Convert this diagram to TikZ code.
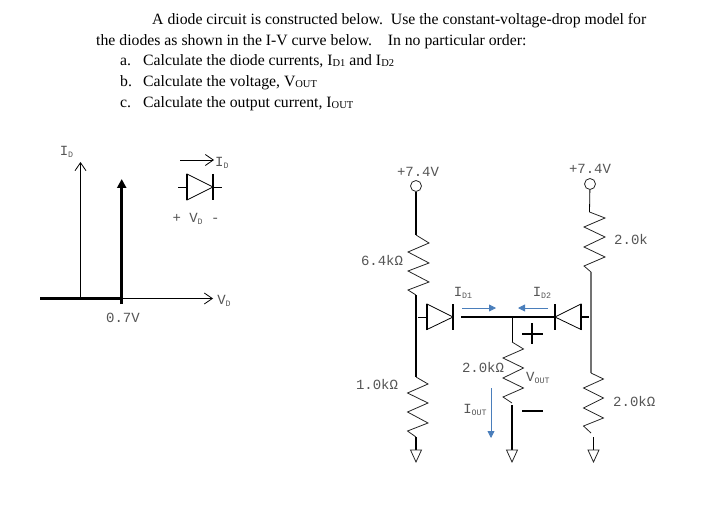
\documentclass[tikz,border=0pt]{standalone}
\usepackage{fontspec}
\setmainfont{Liberation Serif}
\setmonofont{Liberation Mono}
\usetikzlibrary{arrows.meta}
\definecolor{labelgray}{RGB}{85,85,85}
\definecolor{arrowblue}{RGB}{74,126,187}
\newcommand{\monosub}[1]{\raisebox{-1.5pt}{\fontsize{8.3}{8.3}\selectfont #1}}
\newcommand{\serifsub}[1]{\raisebox{-1pt}{\fontsize{10.5}{10.5}\selectfont #1}}
\tikzset{
  x=1pt,y=-1pt,
  prose/.style={anchor=base west,inner sep=0pt,font=\fontsize{15.75}{17}\selectfont\rmfamily,text=black},
  lab/.style={inner sep=0pt,font=\fontsize{14}{14}\selectfont\ttfamily,text=labelgray},
  thinw/.style={draw=black,line width=0.8pt},
  thickw/.style={draw=black,line width=2pt},
  heavyw/.style={draw=black,line width=3pt},
  grayw/.style={draw=black!55,line width=1.2pt},
  zig/.style={draw=black!85,line width=0.8pt,line join=miter},
  openarrow/.style={-{Straight Barb[length=8pt,width=11pt,line width=0.8pt]}},
  bluearrow/.style={draw=arrowblue,line width=0.8pt,-{Triangle[length=7pt,width=7pt]}},
  gnd/.style={draw=black!85,line width=0.8pt,line join=miter},
}
\begin{document}
\begin{tikzpicture}
\useasboundingbox (0,0) rectangle (709,505);
% problem text
\node[prose] (t1) at (152,24.5) {A diode circuit is constructed below.\ \ Use the constant-voltage-drop model for};
\node[prose] (t2) at (96,45.5) {the diodes as shown in the I-V curve below.\ \ \ \ In no particular order:};
\node[prose] (t3a) at (120,65.5) {a.};
\node[prose] (t3) at (143,65.5) {Calculate the diode currents, I\serifsub{D1} and I\serifsub{D2}};
\node[prose] (t4a) at (120,86.5) {b.};
\node[prose] (t4) at (143,86.5) {Calculate the voltage, V\serifsub{OUT}};
\node[prose] (t5a) at (120,107.5) {c.};
\node[prose] (t5) at (143,107.5) {Calculate the output current, I\serifsub{OUT}};

% I-V curve
\coordinate (ivorigin) at (80.5,298);
\coordinate (ivtop) at (80.5,162);
\coordinate (ivleft) at (40,298.5);
\coordinate (ivknee) at (121.7,298.5);
\coordinate (ivtick) at (121.7,304);
\coordinate (ivright) at (213,298.5);
\coordinate (ivup) at (121.7,179);
\draw[thinw,openarrow] (ivorigin) -- (ivtop);
\draw[thinw,openarrow] (ivknee) -- (ivright);
\draw[heavyw] (ivleft) -- (ivknee);
\draw[heavyw,-{Triangle[length=9pt,width=9pt]}] (ivtick) -- (ivup);
\node[lab] (idaxis) at (66.5,152) {I\monosub{D}};
\node[lab] (vdaxis) at (224,301) {V\monosub{D}};
\node[lab] (vknee) at (123,318) {0.7V};

% legend diode
\coordinate (lgA) at (180,160);
\coordinate (lgB) at (214,160);
\draw[thinw,openarrow] (lgA) -- (lgB);
\node[lab,anchor=west] (lgid) at (215,163) {I\monosub{D}};
\coordinate (lga) at (178,187);
\coordinate (lgk) at (222,187);
\draw[thinw] (lga) -- (187,187) (213,187) -- (lgk);
\draw[thinw] (187,174) -- (213,187) -- (187,200) -- cycle;
\draw[thickw] (187,174) -- (187,200);
\draw[thickw] (213,174) -- (213,200);
\node[lab] (lgvd) at (196,219) {+ V\monosub{D} -};

% left branch
\node[draw=black!85,line width=0.8pt,circle,minimum size=11pt,inner sep=0pt] (vl) at (416,186) {};
\node[lab] (vltxt) at (418,172) {+7.4V};
\coordinate (r1a) at (416,235);
\coordinate (r1b) at (416,295);
\coordinate (r2a) at (416,377);
\coordinate (r2b) at (416,437);
\draw[thickw] (vl) -- (r1a);
\draw[zig] (r1a) -- (429,243) -- (408,252) -- (429,263) -- (408,271) -- (429,282) -- (408,290) -- (r1b);
\draw[thickw] (r1b) -- (r2a);
\draw[zig] (r2a) -- (428,384) -- (407.5,393) -- (428,403) -- (407.5,412) -- (428,423) -- (407.5,431) -- (r2b);
\coordinate (g1) at (416,450);
\draw[thickw] (r2b) -- (g1);
\draw[gnd] (g1) ++(-5.5,0) -- ++(11,0) -- ++(-5.5,12) -- cycle;
\node[lab] (r1txt) at (382,260) {6.4kΩ};
\node[lab] (r2txt) at (377,384) {1.0kΩ};

% diode D1
\coordinate (d1a) at (418,317);
\draw[thinw] (d1a) -- (427,317);
\draw[thinw] (427,304) -- (453,317) -- (427,329.5) -- cycle;
\draw[thickw] (427,304) -- (427,329.5);
\draw[thickw] (453,304) -- (453,329.5);

% output wire
\coordinate (wl) at (461,317);
\coordinate (wm) at (512,317);
\coordinate (wr) at (555,317);
\draw[thickw] (wl) -- (wr);

% diode D2
\draw[thinw] (555,317) -- (581,304) -- (581,329.5) -- cycle;
\draw[thickw] (555,304) -- (555,329.5);
\draw[thickw] (581,304) -- (581,329.5);
\coordinate (d2a) at (589,317);
\draw[thickw] (581,317) -- (d2a);

% middle branch
\coordinate (r3a) at (512,342);
\coordinate (r3b) at (512,403);
\coordinate (g2t) at (512,405);
\coordinate (g2) at (512,450);
\draw[thinw] (wm) -- (r3a);
\draw[zig] (r3a) -- (523.5,349) -- (503,358) -- (523.5,368) -- (503,378) -- (523.5,388) -- (503,397) -- (r3b);
\draw[thickw] (g2t) -- (g2);
\draw[gnd] (g2) ++(-5.5,0) -- ++(11,0) -- ++(-5.5,12) -- cycle;
\node[lab] (r3txt) at (483,367) {2.0kΩ};
\node[lab,anchor=west] (vout) at (526,378) {V\monosub{OUT}};
\node[lab] (iout) at (475,410) {I\monosub{OUT}};
\draw[draw=black,line width=1.8pt] (522,334) -- (543,334) (532,323) -- (532,344);
\draw[draw=black,line width=1.8pt] (522,411) -- (543,411);

% right branch
\node[draw=black!85,line width=0.8pt,circle,minimum size=11pt,inner sep=0pt] (vr) at (590,184) {};
\node[lab] (vrtxt) at (590,169) {+7.4V};
\coordinate (r4a) at (589.5,212);
\coordinate (r4b) at (591,272);
\coordinate (r5a) at (591,373);
\coordinate (r5b) at (591,433);
\draw[thinw] (vr) -- (r4a);
\draw[zig] (r4a) -- (605,218) -- (584,227) -- (605,237) -- (584,247) -- (605,257) -- (584,266) -- (r4b);
\draw[grayw] (r4b) -- (r5a);
\draw[zig] (r5a) -- (603.5,379) -- (583.5,388) -- (603.5,398) -- (583.5,408) -- (603.5,418) -- (583.5,426) -- (r5b);
\coordinate (g3t) at (593.5,437);
\coordinate (g3) at (593.5,450);
\draw[thinw] (g3t) -- (g3);
\draw[gnd] (g3) ++(-5.5,0) -- ++(11,0) -- ++(-5.5,12) -- cycle;
\node[lab,anchor=west] (r4txt) at (614,239) {2.0k};
\node[lab,anchor=west] (r5txt) at (613,401) {2.0kΩ};

% current labels
\node[lab] (id1) at (463,293) {I\monosub{D1}};
\node[lab] (id2) at (542,293) {I\monosub{D2}};
\coordinate (a1s) at (462,308);
\coordinate (a1e) at (496,308);
\coordinate (a2s) at (548,308);
\coordinate (a2e) at (518,308);
\coordinate (a3s) at (491,388);
\coordinate (a3e) at (491,438);
\draw[bluearrow] (a1s) -- (a1e);
\draw[bluearrow] (a2s) -- (a2e);
\draw[bluearrow] (a3s) -- (a3e);
\end{tikzpicture}
\end{document}
